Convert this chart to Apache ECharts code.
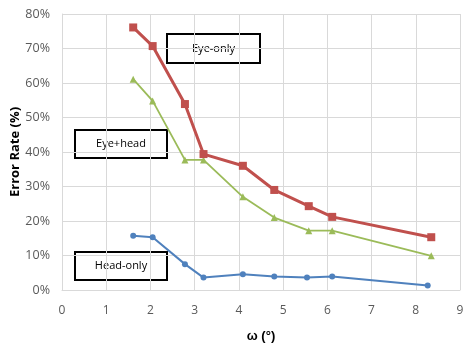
<!DOCTYPE html>
<html>
<head>
<meta charset="utf-8">
<script src="https://cdn.jsdelivr.net/npm/echarts@6/dist/echarts.min.js"></script>
<style>
  html, body { margin: 0; padding: 0; background: #fff; }
</style>
</head>
<body>
<div id="chart" style="width: 474px; height: 358px"></div>
<script>
// x positions (omega, deg) and error rates (%)
const omegaEye = [1.61, 2.05, 2.78, 3.2, 4.09, 4.8, 5.58, 6.11, 8.35];
const eyeOnly = [76.1, 70.7, 53.9, 39.4, 36.0, 29.0, 24.3, 21.2, 15.3];
const eyeHead = [61.1, 54.8, 37.7, 37.7, 27.0, 21.0, 17.2, 17.2, 9.9];
const omegaHead = [1.61, 2.05, 2.78, 3.2, 4.09, 4.8, 5.54, 6.11, 8.27];
const headOnly = [15.7, 15.3, 7.5, 3.6, 4.6, 3.9, 3.6, 3.9, 1.3];

const xTicks = [0, 1, 2, 3, 4, 5, 6, 7, 8, 9];
const yTicks = [0, 10, 20, 30, 40, 50, 60, 70, 80];

const labelFont = "'Open Sans', 'Noto Sans', sans-serif";

function pairs(xs, ys) {
  return xs.map((x, i) => [x, ys[i]]);
}

// annotation box (label on white with black frame)
function box(x, y, w, h, text) {
  return {
    type: "group",
    left: x,
    top: y,
    z: 100,
    children: [
      {
        type: "rect",
        shape: { x: 0, y: 0, width: w, height: h },
        style: { fill: "#fff", stroke: "#000", lineWidth: 2 },
      },
      {
        type: "text",
        x: w / 2,
        y: h / 2,
        style: {
          text: text,
          fill: "#000",
          font: "11px " + labelFont,
          align: "center",
          verticalAlign: "middle",
        },
      },
    ],
  };
}

const chart = echarts.init(document.getElementById("chart"));
const option = {
  backgroundColor: "#fff",
  animation: false,
  grid: { left: 62, right: 14, top: 14, bottom: 68, outerBoundsMode: "none" },
  xAxis: {
    type: "value",
    min: xTicks[0],
    max: xTicks[xTicks.length - 1],
    interval: 1,
    name: "ω (°)",
    nameLocation: "middle",
    nameGap: 40,
    nameMoveOverlap: false,
    nameTextStyle: {
      fontFamily: "'Liberation Sans', sans-serif",
      fontWeight: "bold",
      fontSize: 13,
      color: "#000",
    },
    axisLine: { show: true, lineStyle: { color: "#d9d9d9" } },
    axisTick: { show: false },
    axisLabel: { color: "#595959", fontSize: 12, fontFamily: labelFont, margin: 15 },
    splitLine: { show: true, lineStyle: { color: "#d9d9d9" } },
  },
  yAxis: {
    type: "value",
    min: yTicks[0],
    max: yTicks[yTicks.length - 1],
    interval: 10,
    name: "Error Rate (%)",
    nameLocation: "middle",
    nameGap: 40,
    nameMoveOverlap: false,
    nameTextStyle: {
      fontFamily: "'Open Sans', sans-serif",
      fontWeight: "bold",
      fontSize: 13,
      color: "#000",
    },
    axisLine: { show: true, lineStyle: { color: "#d9d9d9" } },
    axisTick: { show: false },
    axisLabel: {
      color: "#595959",
      fontSize: 12.5,
      fontFamily: labelFont,
      margin: 12,
      formatter: (v) => v + "%",
    },
    splitLine: { show: true, lineStyle: { color: "#d9d9d9" } },
  },
  series: [
    {
      name: "Eye-only",
      type: "line",
      data: pairs(omegaEye, eyeOnly),
      symbol: "rect",
      symbolSize: 8,
      color: "#C0504D",
      lineStyle: { width: 3 },
      z: 4,
    },
    {
      name: "Eye+head",
      type: "line",
      data: pairs(omegaEye, eyeHead),
      symbol: "triangle",
      symbolSize: 7,
      color: "#9BBB59",
      lineStyle: { width: 1.8 },
      z: 3,
    },
    {
      name: "Head-only",
      type: "line",
      data: pairs(omegaHead, headOnly),
      symbol: "circle",
      symbolSize: 6,
      color: "#4F81BD",
      lineStyle: { width: 2 },
      z: 2,
    },
  ],
  graphic: [
    box(166, 33, 93, 29, "Eye-only"),
    box(74, 129, 92, 28, "Eye+head"),
    box(74, 251, 92, 28, "Head-only"),
  ],
};
chart.setOption(option);
</script>
</body>
</html>
